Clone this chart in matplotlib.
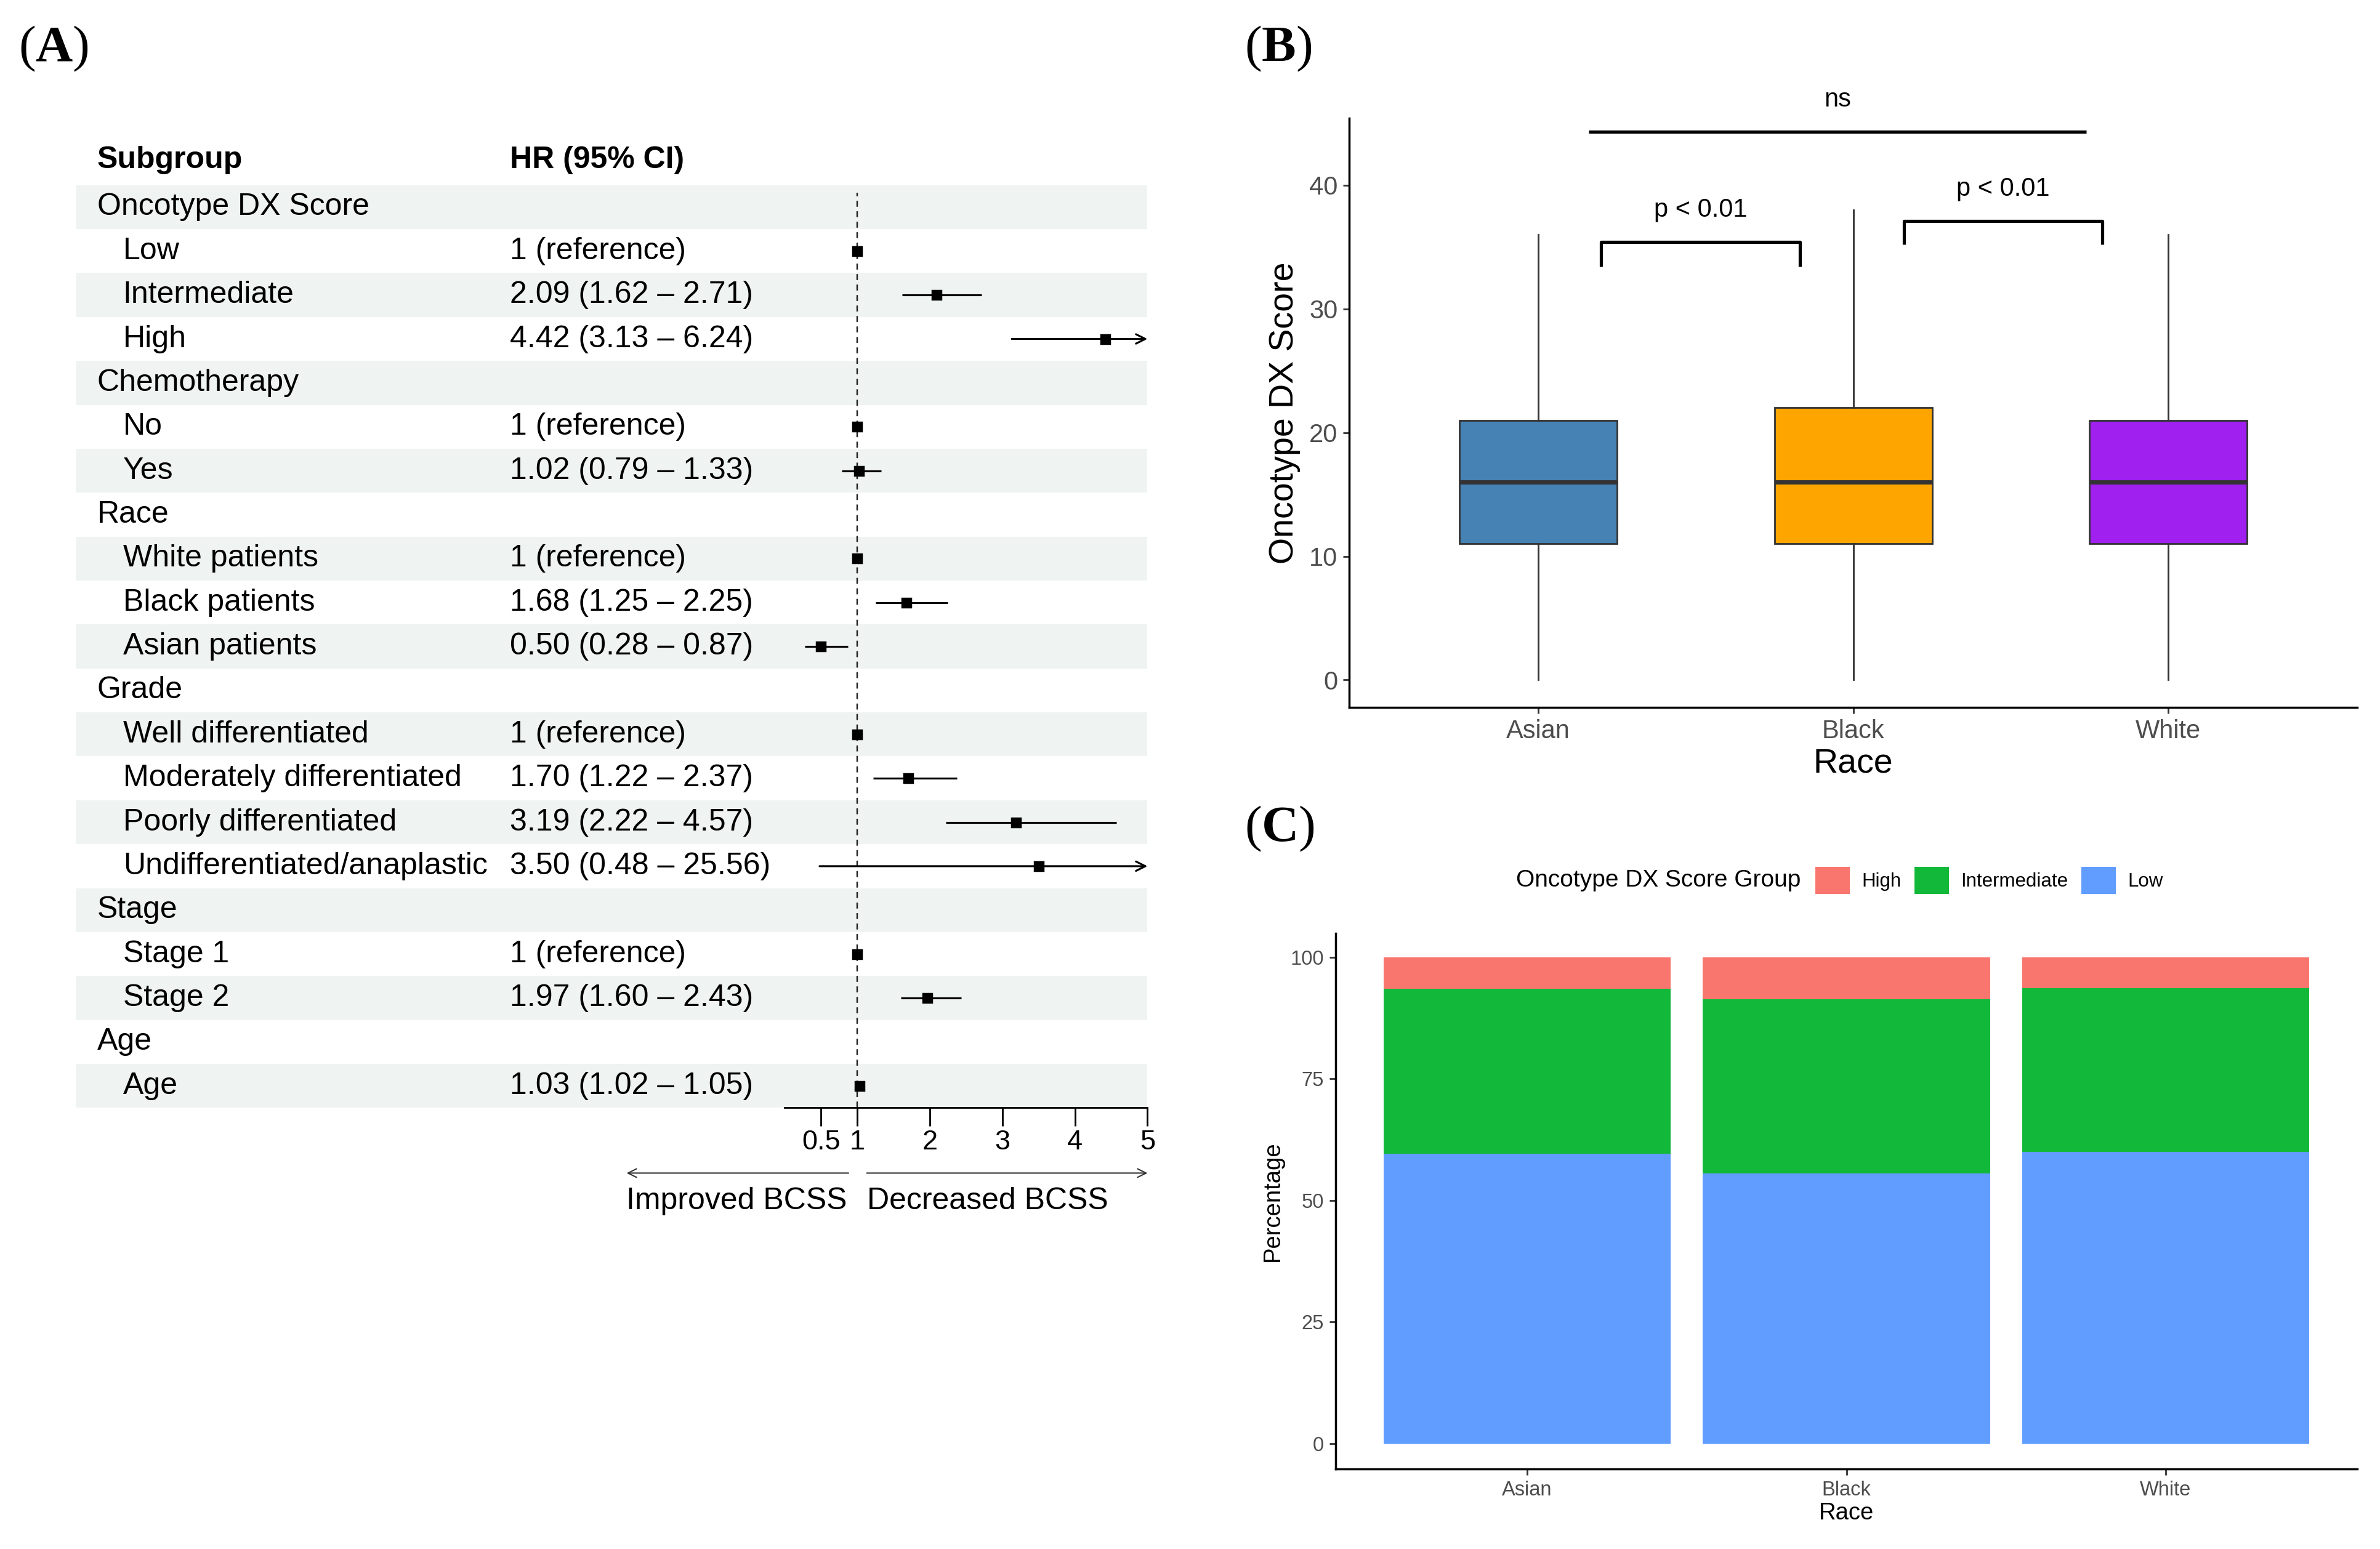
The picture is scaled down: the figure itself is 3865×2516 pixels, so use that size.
import matplotlib.pyplot as plt
import numpy as np
from matplotlib.patches import Patch

plt.rcParams["font.family"] = ["Liberation Sans", "DejaVu Sans"]
plt.rcParams["mathtext.fontset"] = "custom"
plt.rcParams["mathtext.bf"] = "Liberation Serif:bold"
plt.rcParams["mathtext.rm"] = "Liberation Serif"

# ---- (A) forest plot data ----
subgroups = [
    "Oncotype DX Score", "Low", "Intermediate", "High",
    "Chemotherapy", "No", "Yes",
    "Race", "White patients", "Black patients", "Asian patients",
    "Grade", "Well differentiated", "Moderately differentiated",
    "Poorly differentiated", "Undifferentiated/anaplastic",
    "Stage", "Stage 1", "Stage 2",
    "Age", "Age",
]
is_group = [True, False, False, False,
            True, False, False,
            True, False, False, False,
            True, False, False, False, False,
            True, False, False,
            True, False]
hr_labels = [
    "", "1 (reference)", "2.09 (1.62 – 2.71)", "4.42 (3.13 – 6.24)",
    "", "1 (reference)", "1.02 (0.79 – 1.33)",
    "", "1 (reference)", "1.68 (1.25 – 2.25)", "0.50 (0.28 – 0.87)",
    "", "1 (reference)", "1.70 (1.22 – 2.37)", "3.19 (2.22 – 4.57)",
    "3.50 (0.48 – 25.56)",
    "", "1 (reference)", "1.97 (1.60 – 2.43)",
    "", "1.03 (1.02 – 1.05)",
]
nan = np.nan
hr = [nan, 1, 2.09, 4.42, nan, 1, 1.02, nan, 1, 1.68, 0.50,
      nan, 1, 1.70, 3.19, 3.50, nan, 1, 1.97, nan, 1.03]
ci_low = [nan, 1, 1.62, 3.13, nan, 1, 0.79, nan, 1, 1.25, 0.28,
          nan, 1, 1.22, 2.22, 0.48, nan, 1, 1.60, nan, 1.02]
ci_high = [nan, 1, 2.71, 6.24, nan, 1, 1.33, nan, 1, 2.25, 0.87,
           nan, 1, 2.37, 4.57, 25.56, nan, 1, 2.43, nan, 1.05]
hr_ticks = [0.5, 1, 2, 3, 4, 5]

# ---- (B) box plot data ----
races = ["Asian", "Black", "White"]
box_whislo = [0, 0, 0]
box_q1 = [11, 11, 11]
box_med = [16, 16, 16]
box_q3 = [21, 22, 21]
box_whishi = [36, 38, 36]
box_colors = ["#4682B4", "#FFA500", "#A020F0"]
sig_labels = ["p < 0.01", "p < 0.01", "ns"]
sig_x0 = [1.20, 2.16, 1.16]
sig_x1 = [1.83, 2.79, 2.74]
sig_y = [35.4, 37.1, 44.3]
sig_tip = [2.0, 1.9, 0.0]

# ---- (C) stacked bar data ----
score_groups = ["High", "Intermediate", "Low"]
pct_low = [59.6, 55.6, 60.0]
pct_int = [33.9, 35.7, 33.6]
pct_high = [6.5, 8.7, 6.4]
group_colors = {"High": "#F8766D", "Intermediate": "#12B83A", "Low": "#619CFF"}

W, H = 1568.0, 1020.7  # layout reference grid


def fig_rect(x0, y0, x1, y1):
    return [x0 / W, 1 - y1 / H, (x1 - x0) / W, (y1 - y0) / H]


fig = plt.figure(figsize=(15.46, 10.064), dpi=250)

# ---------------- (A) ----------------
n = len(subgroups)
rows = np.arange(n)
ax_t = fig.add_axes(fig_rect(50, 122, 756, 730))
ax_t.set_xlim(0, 1)
ax_t.set_ylim(n - 0.5, -0.5)
ax_t.axis("off")
for i in rows:
    if i % 2 == 0:
        ax_t.axhspan(i - 0.5, i + 0.5, color="#EFF3F2", lw=0, zorder=0)
    x = 0.0198 if is_group[i] else 0.0439
    ax_t.text(x, i, subgroups[i], fontsize=14.4, va="center", ha="left")
    if hr_labels[i]:
        ax_t.text(0.405, i, hr_labels[i], fontsize=14.4, va="center", ha="left")
ax_t.text(0.0198, -1.07, "Subgroup", fontsize=14.4, fontweight="bold",
          va="center", clip_on=False)
ax_t.text(0.405, -1.07, "HR (95% CI)", fontsize=14.4, fontweight="bold",
          va="center", clip_on=False)

ax_f = fig.add_axes(fig_rect(517, 122, 756, 730))
ax_f.patch.set_visible(False)
ax_f.set_xlim(0, 5)
ax_f.set_ylim(n - 0.5, -0.5)
for s in ["top", "right", "left"]:
    ax_f.spines[s].set_visible(False)
ax_f.spines["bottom"].set_linewidth(0.8)
ax_f.set_yticks([])
ax_f.set_xticks(hr_ticks)
ax_f.set_xticklabels(["0.5", "1", "2", "3", "4", "5"])
ax_f.tick_params(axis="x", direction="out", length=8.6, width=0.8,
                 labelsize=13, pad=1.5)
ax_f.axvline(1, ymax=0.992, ls=(0, (4, 3)), color="#222222", lw=0.7, zorder=1)

xmin, xmax = ax_f.get_xlim()
for i in rows:
    if np.isnan(hr[i]):
        continue
    lo = max(ci_low[i], xmin)
    if ci_high[i] > xmax:
        ax_f.annotate("", xy=(xmax, i), xytext=(lo, i),
                      arrowprops=dict(arrowstyle="->", lw=0.9, color="black",
                                      shrinkA=0, shrinkB=0, mutation_scale=11),
                      zorder=2)
    elif ci_high[i] > ci_low[i]:
        ax_f.hlines(i, lo, ci_high[i], color="black", lw=0.9, zorder=2)
    ax_f.plot(hr[i], i, "s", ms=4.2, color="black", zorder=3)

tr = ax_f.get_xaxis_transform()
ax_f.annotate("", xy=(-2.18, -0.0707), xytext=(0.88, -0.0707), xycoords=tr,
              textcoords=tr, annotation_clip=False,
              arrowprops=dict(arrowstyle="->", lw=0.6, color="#333333",
                              shrinkA=0, shrinkB=0, mutation_scale=10))
ax_f.annotate("", xy=(5.0, -0.0707), xytext=(1.13, -0.0707), xycoords=tr,
              textcoords=tr, annotation_clip=False,
              arrowprops=dict(arrowstyle="->", lw=0.6, color="#333333",
                              shrinkA=0, shrinkB=0, mutation_scale=10))
ax_f.text(0.86, -0.101, "Improved BCSS", transform=tr, fontsize=14.4,
          ha="right", va="center", clip_on=False)
ax_f.text(1.13, -0.101, "Decreased BCSS", transform=tr, fontsize=14.4,
          ha="left", va="center", clip_on=False)

# ---------------- (B) ----------------
ax_b = fig.add_axes(fig_rect(889, 78, 1553, 466))
stats = []
for k, r in enumerate(races):
    stats.append(dict(label=r, whislo=box_whislo[k], q1=box_q1[k],
                      med=box_med[k], q3=box_q3[k], whishi=box_whishi[k],
                      fliers=[]))
bp = ax_b.bxp(stats, positions=[1, 2, 3], widths=0.5, patch_artist=True,
              showfliers=False, showcaps=False,
              boxprops=dict(edgecolor="#333333", linewidth=0.8),
              medianprops=dict(color="#333333", linewidth=2.0),
              whiskerprops=dict(color="#333333", linewidth=0.8))
for patch, c in zip(bp["boxes"], box_colors):
    patch.set_facecolor(c)
ax_b.set_xlim(0.4, 3.6)
ax_b.set_ylim(-2.2, 45.4)
ax_b.set_yticks([0, 10, 20, 30, 40])
for s in ["top", "right"]:
    ax_b.spines[s].set_visible(False)
for s in ["left", "bottom"]:
    ax_b.spines[s].set_linewidth(1.0)
ax_b.tick_params(length=3, width=0.8, colors="#333333", labelsize=12,
                 labelcolor="#4D4D4D", pad=2.5)
ax_b.set_xlabel("Race", fontsize=16, labelpad=2)
ax_b.set_ylabel("Oncotype DX Score", fontsize=16, labelpad=4)
for lab, x0, x1, y, tip in zip(sig_labels, sig_x0, sig_x1, sig_y, sig_tip):
    ax_b.plot([x0, x0, x1, x1], [y - tip, y, y, y - tip], color="black",
              lw=1.5, clip_on=False, solid_capstyle="butt")
    ax_b.text((x0 + x1) / 2, y + 2.6, lab, fontsize=12, ha="center",
              va="center", clip_on=False)

# ---------------- (C) ----------------
ax_c = fig.add_axes(fig_rect(880, 615, 1553, 968))
pos = np.arange(1, len(races) + 1)
ax_c.bar(pos, pct_low, width=0.9, color=group_colors["Low"])
ax_c.bar(pos, pct_int, width=0.9, bottom=pct_low,
         color=group_colors["Intermediate"])
ax_c.bar(pos, pct_high, width=0.9, bottom=np.add(pct_low, pct_int),
         color=group_colors["High"])
ax_c.set_xlim(0.4, 3.6)
ax_c.set_ylim(-5.2, 104.9)
ax_c.set_xticks(pos)
ax_c.set_xticklabels(races)
ax_c.set_yticks([0, 25, 50, 75, 100])
for s in ["top", "right"]:
    ax_c.spines[s].set_visible(False)
for s in ["left", "bottom"]:
    ax_c.spines[s].set_linewidth(1.0)
ax_c.tick_params(length=3, width=0.8, colors="#333333", labelsize=9.4,
                 labelcolor="#4D4D4D", pad=2.5)
ax_c.set_xlabel("Race", fontsize=11, labelpad=1)
ax_c.set_ylabel("Percentage", fontsize=11, labelpad=3)

handles = [Patch(facecolor=group_colors[g], edgecolor="none") for g in score_groups]
fig.text(999 / W, 1 - 580 / H, "Oncotype DX Score Group", fontsize=11.2,
         ha="left", va="center")
fig.legend(handles, score_groups, loc="center left",
           bbox_to_anchor=(1196 / W, 1 - 580 / H), ncol=3, frameon=False,
           fontsize=9, handlelength=1.8, handleheight=1.8, handletextpad=0.6,
           columnspacing=0.7, borderpad=0, borderaxespad=0)

# panel letters: regular parentheses, bold letter
for lab, x, y in [("A", 12, 32), ("B", 820, 32), ("C", 820, 546)]:
    fig.text(x / W, 1 - y / H, "(" + r"$\mathbf{" + lab + "}$" + ")",
             fontsize=24, family="Liberation Serif", ha="left", va="center")

fig.savefig("out.png", dpi=250)
